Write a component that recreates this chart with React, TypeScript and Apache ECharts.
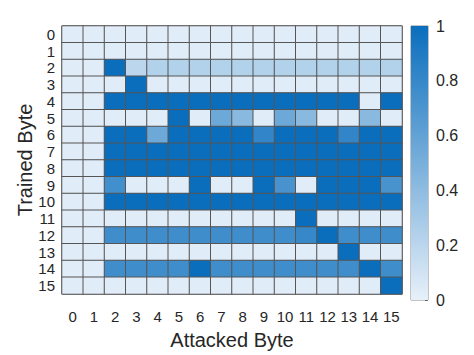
import React, { useEffect, useRef } from "react";
import * as echarts from "echarts";

const attackedBytes = ["0","1","2","3","4","5","6","7","8","9","10","11","12","13","14","15"];
const trainedBytes = ["0","1","2","3","4","5","6","7","8","9","10","11","12","13","14","15"];
const colorbarTicks = [0, 0.2, 0.4, 0.6, 0.8, 1];

const row0 = [0.03,0.03,0.03,0.03,0.03,0.03,0.03,0.03,0.03,0.03,0.03,0.03,0.03,0.03,0.03,0.03];
const row1 = [0.03,0.03,0.03,0.03,0.03,0.03,0.03,0.03,0.03,0.03,0.03,0.03,0.03,0.03,0.03,0.03];
const row2 = [0.03,0.03,1,0.2,0.24,0.24,0.24,0.24,0.24,0.24,0.24,0.24,0.24,0.24,0.24,0.24];
const row3 = [0.03,0.03,0.03,1,0.03,0.03,0.03,0.03,0.03,0.03,0.03,0.03,0.03,0.03,0.03,0.03];
const row4 = [0.03,0.03,1,1,1,1,1,1,1,1,1,1,1,1,0.03,1];
const row5 = [0.03,0.03,0.03,0.03,0.03,1,0.03,0.55,0.42,0.03,0.55,0.42,0.03,0.03,0.42,0.03];
const row6 = [0.03,0.03,1,1,0.55,1,1,1,1,0.82,1,1,1,0.82,1,1];
const row7 = [0.03,0.03,1,1,1,1,1,1,1,1,1,1,1,1,1,1];
const row8 = [0.03,0.03,1,1,1,1,1,1,1,1,1,1,1,1,1,1];
const row9 = [0.03,0.03,0.75,0.03,0.03,0.03,1,0.03,0.03,1,0.72,0.03,1,1,1,0.72];
const row10 = [0.03,0.03,1,1,1,1,1,1,1,1,1,1,1,1,1,1];
const row11 = [0.03,0.03,0.03,0.03,0.03,0.03,0.03,0.03,0.03,0.03,0.03,1,0.03,0.03,0.03,0.03];
const row12 = [0.03,0.03,0.76,0.76,0.76,0.76,0.76,0.76,0.76,0.76,0.76,0.8,1,0.76,0.76,0.76];
const row13 = [0.03,0.03,0.03,0.03,0.03,0.03,0.03,0.03,0.03,0.03,0.03,0.03,0.03,1,0.03,0.03];
const row14 = [0.03,0.03,0.76,0.76,0.76,0.76,1,0.76,0.76,0.76,0.76,0.76,0.76,0.76,1,0.76];
const row15 = [0.03,0.03,0.03,0.03,0.03,0.03,0.03,0.03,0.03,0.03,0.03,0.03,0.03,0.03,0.03,1];

const rows = [row0,row1,row2,row3,row4,row5,row6,row7,row8,row9,row10,row11,row12,row13,row14,row15];

const LOW = "#e7f0f9";
const HIGH = "#0a6ebd";
const FONT = "Liberation Sans, Arial, sans-serif";
const TXT = "#262626";

export default function App() {
  const ref = useRef<HTMLDivElement>(null);
  useEffect(() => {
    if (!ref.current) return;
    const chart = echarts.init(ref.current, null, { renderer: "svg" });
    const data: number[][] = [];
    rows.forEach((r, y) => r.forEach((v, x) => data.push([x, y, v])));
    chart.setOption({
      animation: false,
      backgroundColor: "#fff",
      grid: [
        { left: 62, right: 72, top: 26, bottom: 54, show: true, borderColor: "#555", borderWidth: 1 },
        { left: 411, width: 17, top: 26, bottom: 55, show: true, borderColor: "#888", borderWidth: 1 },
      ],
      xAxis: [
        {
          type: "category",
          data: attackedBytes,
          gridIndex: 0,
          position: "bottom",
          axisLine: { show: false },
          axisTick: { show: false },
          axisLabel: { color: TXT, fontSize: 15, fontFamily: FONT, margin: 15, interval: 0 },
          name: "Attacked Byte",
          nameLocation: "middle",
          nameGap: 36,
          nameMoveOverlap: false,
          nameTextStyle: { color: TXT, fontSize: 20, fontFamily: FONT },
        },
        {
          type: "category",
          data: ["c"],
          gridIndex: 1,
          show: false,
        },
      ],
      yAxis: [
        {
          type: "category",
          data: trainedBytes,
          gridIndex: 0,
          inverse: true,
          axisLine: { show: false },
          axisTick: { show: false },
          axisLabel: { color: TXT, fontSize: 15, fontFamily: FONT, margin: 7, interval: 0 },
          name: "Trained Byte",
          nameLocation: "middle",
          nameGap: 27,
          nameMoveOverlap: false,
          nameRotate: 90,
          nameTextStyle: { color: TXT, fontSize: 20, fontFamily: FONT },
        },
        {
          type: "value",
          gridIndex: 1,
          min: 0,
          max: 1,
          interval: 0.2,
          position: "right",
          axisLine: { show: false },
          axisTick: { show: true, inside: true, length: 3, lineStyle: { color: "#666" } },
          splitLine: { show: false },
          axisLabel: {
            color: TXT,
            fontSize: 16,
            fontFamily: FONT,
            margin: 8,
            formatter: (v: number) => (colorbarTicks.includes(Math.round(v * 10) / 10) ? String(Math.round(v * 10) / 10) : ""),
          },
        },
      ],
      visualMap: {
        show: false,
        min: 0,
        max: 1,
        seriesIndex: 0,
        inRange: { color: [LOW, HIGH] },
      },
      series: [
        {
          type: "heatmap",
          xAxisIndex: 0,
          yAxisIndex: 0,
          data,
          itemStyle: { borderColor: "#555", borderWidth: 1 },
          emphasis: { disabled: true },
        },
        {
          type: "bar",
          xAxisIndex: 1,
          yAxisIndex: 1,
          data: [1],
          barWidth: "100%",
          itemStyle: {
            color: new echarts.graphic.LinearGradient(0, 0, 0, 1, [
              { offset: 0, color: HIGH },
              { offset: 1, color: LOW },
            ]),
          },
          silent: true,
        },
      ],
    });
    return () => chart.dispose();
  }, []);
  return <div ref={ref} style={{ width: 474, height: 355, position: "absolute", left: 0, top: 0 }} />;
}
